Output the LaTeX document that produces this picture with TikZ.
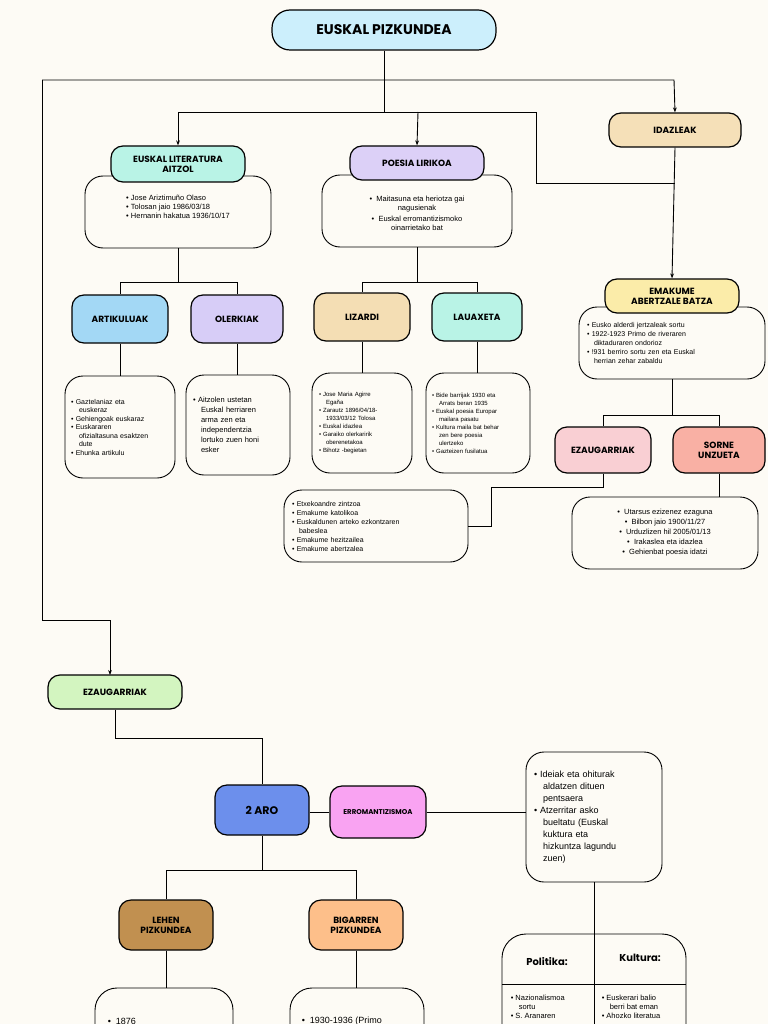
\documentclass[tikz,border=0pt]{standalone}
\usepackage{fontspec}
\setmainfont{Liberation Sans}
\newfontfamily\lab{Poppins}
\usetikzlibrary{arrows.meta}
\definecolor{bg}{HTML}{FDFBF5}
\begin{document}
\begin{tikzpicture}[x=1pt,y=-1pt,line width=0.9pt,
 lbl/.style={draw,line width=1.2pt,rounded corners=12pt,align=center,font=\lab\bfseries\fontsize{9}{10}\selectfont,inner sep=2pt},
 box/.style={draw,rounded corners=18pt,align=left,font=\fontsize{7}{8.5}\selectfont,inner sep=3pt},
 arr/.style={-{Stealth[length=5pt]}}]
\fill[bg] (0,0) rectangle (768,1024);
\useasboundingbox (0,0) rectangle (768,1024);
\newcommand{\bl}{\textbullet\ }
\node[lbl,fill=cyan!20,minimum width=224,minimum height=40,rounded corners=18pt,font=\lab\bfseries\fontsize{14}{16}\selectfont] (t) at (384,30) {EUSKAL PIZKUNDEA};
\node[lbl,fill={rgb,255:red,245;green,224;blue,184},minimum width=132,minimum height=34] (id) at (675,130) {IDAZLEAK};
\node[box,minimum width=186,minimum height=72] (aitb) at (178,212) {};
\node[font=\fontsize{7.5}{9}\selectfont,align=left] at (178,207) {\bl Jose Ariztimuño Olaso\\ \bl Tolosan jaio 1986/03/18\\ \bl Hernanin hakatua 1936/10/17};
\node[lbl,fill={rgb,255:red,185;green,243;blue,230},minimum width=134,minimum height=36] (ait) at (178,164) {EUSKAL LITERATURA\\AITZOL};
\node[box,minimum width=190,minimum height=72] (poeb) at (417,211) {};
\node[font=\fontsize{7.5}{9}\selectfont,align=center] at (417,213) {\bl\ Maitasuna eta heriotza gai\\ nagusienak\\[2pt] \bl\ Euskal erromantizismoko\\ oinarrietako bat};
\node[lbl,fill={rgb,255:red,220;green,208;blue,247},minimum width=134,minimum height=34] (poe) at (417,163) {POESIA LIRIKOA};
\node[lbl,fill={rgb,255:red,163;green,216;blue,245},minimum width=96,minimum height=48] (art) at (120,319) {ARTIKULUAK};
\node[lbl,fill={rgb,255:red,215;green,205;blue,247},minimum width=92,minimum height=48] (ole) at (237,319) {OLERKIAK};
\node[lbl,fill={rgb,255:red,244;green,222;blue,180},minimum width=96,minimum height=48] (liz) at (362,317) {LIZARDI};
\node[lbl,fill={rgb,255:red,185;green,243;blue,230},minimum width=90,minimum height=48] (lau) at (477,317) {LAUAXETA};
\node[box,minimum width=110,minimum height=102,text width=98] (artb) at (120,427) {\bl Gaztelaniaz eta\\ \hspace*{8pt}euskeraz\\ \bl Gehiengoak euskaraz\\ \bl Euskararen\\ \hspace*{8pt}ofizialtasuna esaktzen\\ \hspace*{8pt}dute\\ \bl Ehunka artikulu};
\node[box,minimum width=104,minimum height=100,text width=90,font=\fontsize{7.5}{10}\selectfont] (oleb) at (238,425) {\bl Aitzolen ustetan\\ \hspace*{8pt}Euskal herriaren\\ \hspace*{8pt}arma zen eta\\ \hspace*{8pt}independentzia\\ \hspace*{8pt}lortuko zuen honi\\ \hspace*{8pt}esker};
\node[box,minimum width=100,minimum height=100,text width=86,font=\fontsize{6}{8}\selectfont] (lizb) at (362,423) {\bl Jose Maria Agirre\\ \hspace*{7pt}Egaña\\ \bl Zarautz 1896/04/18-\\ \hspace*{7pt}1933/03/12 Tolosa\\ \bl Euskal idazlea\\ \bl Garaiko olerkaririk\\ \hspace*{7pt}oberenetakoa\\ \bl Bihotz -begietan};
\node[box,minimum width=104,minimum height=100,text width=92,font=\fontsize{6}{8}\selectfont] (laub) at (478,423) {\bl Bide barrijak 1930 eta\\ \hspace*{7pt}Arrats beran 1935\\ \bl Euskal poesia Europar\\ \hspace*{7pt}mailara pasatu\\ \bl Kultura maila bat behar\\ \hspace*{7pt}zen bere poesia\\ \hspace*{7pt}ulertzeko\\ \bl Gazteizen fusilatua};
\node[box,minimum width=186,minimum height=72,text width=170,font=\fontsize{7}{9}\selectfont] (emb) at (672,343) {\bl Eusko alderdi jertzaleak sortu\\ \bl 1922-1923 Primo de riveraren\\ \hspace*{7pt}diktaduraren ondorioz\\ \bl !931 berriro sortu zen eta Euskal\\ \hspace*{7pt}herrian zehar zabaldu};
\node[lbl,fill={rgb,255:red,251;green,236;blue,169},minimum width=134,minimum height=34] (em) at (672,296) {EMAKUME\\ABERTZALE BATZA};
\node[lbl,fill={rgb,255:red,249;green,207;blue,211},minimum width=96,minimum height=46] (ez) at (603,450) {EZAUGARRIAK};
\node[lbl,fill={rgb,255:red,249;green,176;blue,164},minimum width=92,minimum height=46] (so) at (719,450) {SORNE\\UNZUETA};
\node[box,minimum width=184,minimum height=72,text width=168,font=\fontsize{7}{9}\selectfont] (ezb) at (376,526) {\bl Etxekoandre zintzoa\\ \bl Emakume katolikoa\\ \bl Euskaldunen arteko ezkontzaren\\ \hspace*{7pt}babeslea\\ \bl Emakume hezitzailea\\ \bl Emakume abertzalea};
\node[box,minimum width=186,minimum height=72,align=center,font=\fontsize{7.5}{10}\selectfont] (sob) at (665,533) {\bl\ Utarsus ezizenez ezaguna\\ \bl\ Bilbon jaio 1900/11/27\\ \bl\ Urduzlizen hil 2005/01/13\\ \bl\ Irakaslea eta idazlea\\ \bl\ Gehienbat poesia idatzi};
\node[lbl,fill={rgb,255:red,211;green,245;blue,192},minimum width=134,minimum height=34] (ez2) at (115,692) {EZAUGARRIAK};
\node[lbl,fill={rgb,255:red,108;green,143;blue,236},minimum width=94,minimum height=50,font=\lab\bfseries\fontsize{11}{12}\selectfont] (aro) at (262,810) {2 ARO};
\node[lbl,fill={rgb,255:red,249;green,163;blue,242},minimum width=96,minimum height=52,font=\lab\bfseries\fontsize{7}{8}\selectfont] (err) at (378,812) {ERROMANTIZISMOA};
\node[box,minimum width=136,minimum height=130,text width=120,font=\fontsize{9}{12}\selectfont] (ide) at (594,817) {\bl Ideiak eta ohiturak\\ \hspace*{9pt}aldatzen dituen\\ \hspace*{9pt}pentsaera\\ \bl Atzerritar asko\\ \hspace*{9pt}bueltatu (Euskal\\ \hspace*{9pt}kuktura eta\\ \hspace*{9pt}hizkuntza lagundu\\ \hspace*{9pt}zuen)};
\node[lbl,fill={rgb,255:red,193;green,144;blue,80},minimum width=94,minimum height=50] (leh) at (166,925) {LEHEN\\PIZKUNDEA};
\node[lbl,fill={rgb,255:red,253;green,191;blue,138},minimum width=94,minimum height=50] (big) at (356,925) {BIGARREN\\PIZKUNDEA};
% bottom boxes cut off
\draw[rounded corners=22pt] (95,1030) -- (95,988) -- (233,988) -- (233,1030);
\draw[rounded corners=22pt] (290,1030) -- (290,988) -- (424,988) -- (424,1030);
\coordinate (lb) at (166,988); \coordinate (rb) at (356,988);
\node[anchor=west,font=\fontsize{9}{10}\selectfont] at (104,1021) {\bl\ 1876};
\node[anchor=west,font=\fontsize{9}{10}\selectfont] at (298,1021) {\bl\ 1930-1936 (Primo};
% table
\draw[rounded corners=24pt] (502,1030) -- (502,934) -- (686,934) -- (686,1030);
\draw (502,984) -- (686,984);
\draw (594,934) -- (594,1030);
\coordinate (tt) at (594,934);
\node[font=\lab\bfseries\fontsize{10}{12}\selectfont] at (547,962) {Politika:};
\node[font=\lab\bfseries\fontsize{10}{12}\selectfont] at (640,958) {Kultura:};
\node[anchor=north west,font=\fontsize{7.5}{9}\selectfont,align=left] at (507,991) {\bl Nazionalismoa\\ \hspace*{8pt}sortu\\ \bl S. Aranaren};
\node[anchor=north west,font=\fontsize{7.5}{9}\selectfont,align=left] at (598,991) {\bl Euskerari balio\\ \hspace*{8pt}berri bat eman\\ \bl Ahozko literatua};
% connectors
\coordinate (a1) at (384,80);
\draw (t.south) -- (a1);
\draw[arr] (42,80) -- (674,80) -- (id.north);
\draw (384,80) -- (384,112);
\draw[arr] (178,112) -- (ait.north);
\draw (178,112) -- (536,112) -- (536,183) -- (675,183);
\draw[arr] (418,112) -- (poe.north);
\draw (42,80) -- (42,620) -- (110,620);
\draw[arr] (110,620) -- (110,675);
\draw[arr] (id.south) -- (em.north);
\draw (aitb.south) -- (178,282);
\draw (120,282) -- (237,282);
\draw (120,282) -- (art.north); \draw (237,282) -- (ole.north);
\draw (poeb.south) -- (417,282);
\draw (362,282) -- (477,282);
\draw (362,282) -- (liz.north); \draw (477,282) -- (lau.north);
\draw (art.south) -- (art.south |- artb.north); \draw (ole.south) -- (ole.south |- oleb.north);
\draw (liz.south) -- (liz.south |- lizb.north); \draw (lau.south) -- (lau.south |- laub.north);
\draw (emb.south) -- (672,415);
\draw (603,415) -- (719,415);
\draw (603,415) -- (ez.north); \draw (719,415) -- (so.north);
\draw (ez.south) -- (603,487) -- (491,487) -- (491,526) -- (ezb.east);
\draw (so.south) -- (so.south |- sob.north);
\draw (ez2.south) -- (115,738) -- (262,738) -- (aro.north);
\draw (aro.east |- err.west) -- (err.west);
\draw (err.east) -- (ide.west |- err.east);
\draw (ide.south) -- (tt);
\draw (aro.south) -- (262,870);
\draw (166,870) -- (356,870);
\draw (166,870) -- (leh.north); \draw (356,870) -- (big.north);
\draw (leh.south) -- (lb); \draw (big.south) -- (rb);
\end{tikzpicture}
\end{document}
